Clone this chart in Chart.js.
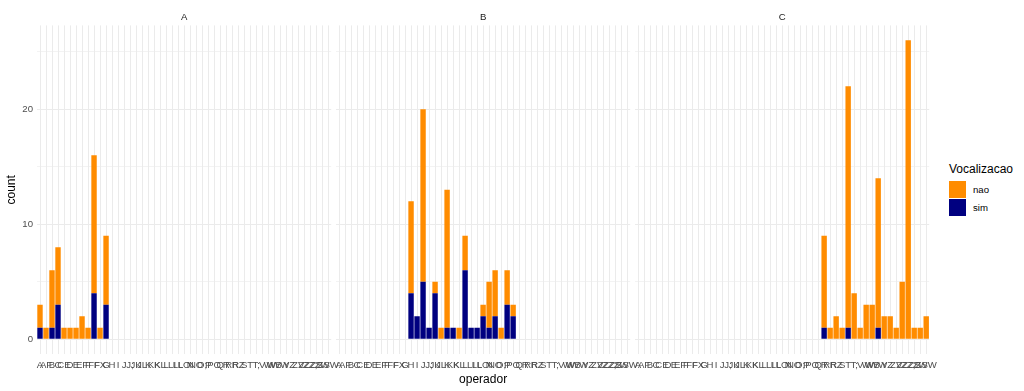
<!DOCTYPE html>
<html>
<head>
<meta charset="utf-8">
<script src="https://cdn.jsdelivr.net/npm/chart.js@4.4.1/dist/chart.umd.min.js"></script>
<style>
  html, body { margin: 0; padding: 0; background: #fff; }
  #wrap { position: relative; width: 1024px; height: 391px; overflow: hidden; font-family: "Liberation Sans", Arial, sans-serif; }
  canvas { position: absolute; top: 0; }
  #legend { position: absolute; left: 949px; top: 162px; color: #000; }
  #legend .ttl { font-size: 12px; line-height: 14px; margin-bottom: 5px; }
  #legend .row { display: flex; align-items: center; height: 17.5px; }
  #legend .key { width: 17px; height: 17px; margin-right: 7px; }
  #legend .lab { font-size: 9.6px; }
</style>
</head>
<body>
<div id="wrap">
  <canvas id="panelA" width="344" height="391" style="left:0px"></canvas>
  <canvas id="panelB" width="315" height="391" style="left:328px"></canvas>
  <canvas id="panelC" width="315" height="391" style="left:627px"></canvas>
  <div id="legend"></div>
</div>
<script>
// all operador levels (shared x axis of the three facets)
const operadores = ['A','AF','B','C','CE','D','E','EF','F','FF','FX','G','H','I','J','J;','JK','JL',
  'K','KK','KL','L','LI','LL','LO','N','NO','O;','P','PO','Q','R','RR','RZ','S','T','T;','V','W',
  'WB','WW','Y','Z','ZV','ZZ','ZZ;','ZS','ZW','ZSW'];

// facet A
const opsA = ['A','AF','B','C','CE','D','E','EF','F','FF','FX','G'];
const naoA = [2, 1, 5, 5, 1, 1, 1, 2, 1, 12, 1, 6];
const simA = [1, 0, 1, 3, 0, 0, 0, 0, 0, 4, 0, 3];

// facet B
const opsB = ['H','I','J','J;','JK','JL','K','KK','KL','L','LI','LL','LO','N','NO','O;','P','PO'];
const naoB = [8, 0, 15, 0, 1, 1, 12, 0, 1, 3, 0, 0, 1, 4, 4, 1, 3, 1];
const simB = [4, 2, 5, 1, 4, 0, 1, 1, 0, 6, 1, 1, 2, 1, 2, 0, 3, 2];

// facet C
const opsC = ['R','RR','RZ','S','T','T;','V','W','WB','WW','Y','Z','ZV','ZZ','ZZ;','ZS','ZW','ZSW'];
const naoC = [8, 1, 2, 1, 21, 4, 1, 3, 3, 13, 2, 2, 1, 5, 26, 1, 1, 2];
const simC = [1, 0, 0, 0, 1, 0, 0, 0, 0, 1, 0, 0, 0, 0, 0, 0, 0, 0];

const yGrid = [0, 5, 10, 15, 20, 25];
const yLabels = [0, 10, 20];

const colNao = '#FF8C00';
const colSim = '#000080';
const family = '"Liberation Sans", Arial, sans-serif';

function points(ops, vals) {
  const out = [];
  ops.forEach((op, i) => { if (vals[i] > 0) out.push({ x: op, y: vals[i] }); });
  return out;
}

function makePanel(id, strip, ops, nao, sim, showY, showX, padLeft) {
  new Chart(document.getElementById(id), {
    type: 'bar',
    data: {
      labels: operadores,
      datasets: [
        { label: 'sim', data: points(ops, sim), backgroundColor: colSim },
        { label: 'nao', data: points(ops, nao), backgroundColor: colNao }
      ]
    },
    options: {
      responsive: false,
      animation: false,
      barPercentage: 0.9,
      categoryPercentage: 1.0,
      layout: { padding: { left: padLeft, right: 12, top: 0, bottom: 0 } },
      plugins: {
        legend: { display: false },
        tooltip: { enabled: false },
        title: {
          display: true, text: strip, fullSize: false, color: '#1a1a1a',
          font: { size: 9.6, family: family, weight: 'normal' },
          padding: { top: 11.3, bottom: 2.6 }
        }
      },
      scales: {
        x: {
          stacked: true,
          offset: true,
          grid: { offset: false, color: '#ebebeb', lineWidth: 1, drawTicks: false },
          border: { display: false },
          ticks: { autoSkip: false, maxRotation: 0, minRotation: 0, color: '#4d4d4d',
                   font: { size: 9.6, family: family }, padding: 5 },
          title: { display: showX, text: 'operador', color: '#000',
                   font: { size: 12, family: family }, padding: { top: 0, bottom: 3.8 } },
          afterFit: s => { s.height = 36.7; }
        },
        y: {
          stacked: true,
          min: -1.3,
          max: 27.3,
          afterBuildTicks: s => { s.ticks = yGrid.map(v => ({ value: v })); },
          grid: {
            color: '#ebebeb',
            lineWidth: c => (c.tick && yLabels.includes(c.tick.value)) ? 1 : 0.6,
            drawTicks: false
          },
          border: { display: false },
          ticks: { display: showY, color: '#4d4d4d', font: { size: 9.6, family: family }, padding: 4,
                   callback: v => yLabels.includes(v) ? String(v) : '' },
          title: { display: showY, text: 'count', color: '#000',
                   font: { size: 12, family: family }, padding: { top: 4.8, bottom: 0 } },
          afterFit: s => { s.width = showY ? 37 : 0; }
        }
      }
    }
  });
}

makePanel('panelA', 'A', opsA, naoA, simA, true, false, 0);
makePanel('panelB', 'B', opsB, naoB, simB, false, true, 8);
makePanel('panelC', 'C', opsC, naoC, simC, false, false, 8);

// legend
const legendItems = [['nao', colNao], ['sim', colSim]];
const lg = document.getElementById('legend');
lg.innerHTML = '<div class="ttl">Vocalizacao</div>' + legendItems.map(([t, c]) =>
  '<div class="row"><div class="key" style="background:' + c + '"></div><span class="lab">' + t + '</span></div>').join('');
</script>
</body>
</html>
